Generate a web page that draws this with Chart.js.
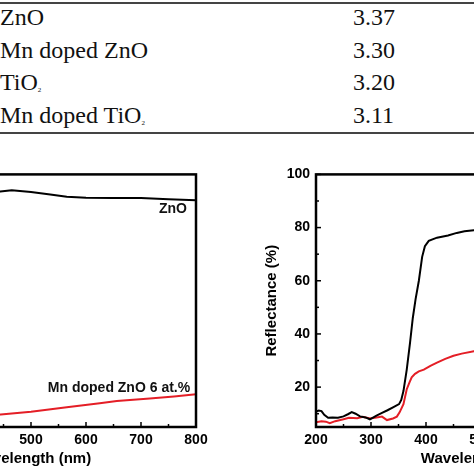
<!DOCTYPE html>
<html>
<head>
<meta charset="utf-8">
<script src="https://cdn.jsdelivr.net/npm/chart.js@4.4.0/dist/chart.umd.min.js"></script>
<style>
  html, body { margin: 0; padding: 0; background: #fff; }
  body { position: relative; width: 474px; height: 474px; overflow: hidden; }
  .rule { position: absolute; left: 0; width: 474px; height: 2px; background: #444; }
  .cell { position: absolute; font-family: "Liberation Serif", "Times New Roman", serif; font-size: 24px; line-height: 24px; color: #111; white-space: nowrap; }
  .cell sub { font-size: 7px; vertical-align: -2px; }
  canvas { position: absolute; top: 160px; }
  #left { left: -194px; }
  #right { left: 256px; }
</style>
</head>
<body>
<div class="rule" style="top:2px"></div>
<div class="cell" style="left:0;top:5px">ZnO</div>
<div class="cell" style="left:353px;top:5px">3.37</div>
<div class="cell" style="left:0;top:38px">Mn doped ZnO</div>
<div class="cell" style="left:353px;top:38px">3.30</div>
<div class="cell" style="left:0;top:70px">TiO<sub>2</sub></div>
<div class="cell" style="left:353px;top:70px">3.20</div>
<div class="cell" style="left:0;top:103px">Mn doped TiO<sub>2</sub></div>
<div class="cell" style="left:353px;top:103px">3.11</div>
<div class="rule" style="top:132px"></div>

<canvas id="left" width="414" height="314"></canvas>
<canvas id="right" width="414" height="314"></canvas>

<script>
// ---- data ----
// left panel: ZnO and Mn doped ZnO 6 at.% (only the visible part, 440-800 nm)
var leftWave = [440, 465, 500, 535, 565, 600, 650, 700, 750, 800];
var znoValues = [93.5, 94, 93.4, 92.4, 91.6, 91.2, 91.1, 91.1, 90.7, 90.3];
var mnZnoWave = [440, 500, 565, 625, 656, 716, 760, 800];
var mnZnoValues = [9.6, 10.7, 12.4, 13.9, 14.8, 15.7, 16.5, 17.3];

// right panel: reflectance, black and red curves
var blackWave = [200, 205, 210, 215, 222, 230, 240, 250, 258, 265, 272, 280, 290, 298, 310, 320, 330, 340, 351, 355, 359, 365, 371, 376, 381, 387, 393, 398, 405, 420, 440, 456, 470, 487, 500];
var blackValues = [10.8, 11.2, 11, 9.6, 8.5, 8.6, 8.5, 9, 9.8, 10.6, 10, 9, 8.6, 7.9, 9.3, 10.3, 11.3, 12.4, 13.6, 15.2, 18.5, 26.6, 36.7, 46, 53, 60, 69, 73, 75, 76.2, 77, 78, 78.6, 79, 79.3];
var redWave = [200, 210, 218, 225, 235, 250, 260, 275, 285, 298, 310, 320, 329, 340, 347, 352, 359, 365, 370, 374, 380, 387, 396, 408, 420, 435, 450, 465, 487, 500];
var redValues = [6.8, 7.2, 7, 6.4, 7.2, 7.9, 8.5, 8.3, 8.8, 8.2, 8.6, 8.9, 7.6, 8.2, 8.9, 10.5, 13.6, 19.2, 21.8, 23.7, 25, 25.9, 26.6, 28, 29.2, 30.6, 31.8, 32.6, 33.5, 34];

// ticks
var xMajor = [200, 300, 400, 500, 600, 700, 800];
var xMinor = [250, 350, 450, 550, 650, 750];
var yMajor = [20, 40, 60, 80, 100];
var yMinor = [10, 30, 50, 70, 90];

// curve labels on the left panel
var leftNotes = [
  { text: "ZnO", wave: 758, value: 87 },
  { text: "Mn doped ZnO 6 at.%", wave: 660, value: 19.6 }
];

var RED = "#e41e26";

Chart.defaults.font.family = "'Liberation Sans', Arial, sans-serif";
Chart.defaults.font.size = 14;
Chart.defaults.font.weight = "bold";
Chart.defaults.color = "#000";

function pairs(xs, ys) {
  return xs.map(function (x, i) { return { x: x, y: ys[i] }; });
}

// box around plot + inward tick marks
var frame = {
  id: "frame",
  afterDatasetsDraw: function (chart) {
    var ctx = chart.ctx, a = chart.chartArea;
    var sx = chart.scales.x, sy = chart.scales.y;
    ctx.save();
    ctx.strokeStyle = "#000";
    ctx.lineWidth = 1.5;
    sx.ticks.forEach(function (t) {
      var px = sx.getPixelForValue(t.value);
      var len = xMajor.indexOf(t.value) >= 0 ? 5 : 3;
      ctx.beginPath(); ctx.moveTo(px, a.bottom); ctx.lineTo(px, a.bottom - len); ctx.stroke();
    });
    sy.ticks.forEach(function (t) {
      var py = sy.getPixelForValue(t.value);
      var len = yMajor.indexOf(t.value) >= 0 ? 5 : 3;
      ctx.beginPath(); ctx.moveTo(a.left, py); ctx.lineTo(a.left + len, py); ctx.stroke();
    });
    ctx.lineWidth = 2.5;
    ctx.strokeRect(a.left, a.top, a.right - a.left, a.bottom - a.top);
    ctx.restore();
  }
};

var notes = {
  id: "notes",
  afterDraw: function (chart, args, opts) {
    if (!opts.items) return;
    var ctx = chart.ctx;
    ctx.save();
    ctx.font = "bold 14px 'Liberation Sans', Arial, sans-serif";
    ctx.fillStyle = "#111";
    ctx.textAlign = "center";
    ctx.textBaseline = "middle";
    opts.items.forEach(function (n) {
      ctx.fillText(n.text, chart.scales.x.getPixelForValue(n.wave), chart.scales.y.getPixelForValue(n.value));
    });
    ctx.restore();
  }
};

function makeOptions(yTitle, items) {
  return {
    responsive: false,
    animation: false,
    devicePixelRatio: 1,
    layout: { padding: { top: 12, right: 24, bottom: 0, left: 0 } },
    plugins: { legend: { display: false }, tooltip: { enabled: false }, notes: { items: items } },
    scales: {
      x: {
        type: "linear",
        min: 200,
        max: 800,
        afterBuildTicks: function (s) {
          s.ticks = xMajor.concat(xMinor).sort(function (a, b) { return a - b; })
            .map(function (v) { return { value: v }; });
        },
        afterFit: function (s) { s.height = 47; },
        grid: { display: false, drawTicks: false },
        border: { display: false },
        ticks: {
          padding: 5,
          maxRotation: 0,
          autoSkip: false,
          callback: function (v) { return xMajor.indexOf(v) >= 0 ? String(v) : ""; }
        },
        title: { display: true, text: "Wavelength (nm)", font: { size: 15 }, padding: { top: 2, bottom: 6 } }
      },
      y: {
        min: 5,
        max: 100,
        afterBuildTicks: function (s) {
          s.ticks = yMinor.concat(yMajor).sort(function (a, b) { return a - b; })
            .map(function (v) { return { value: v }; });
        },
        afterFit: function (s) { s.width = 60; },
        grid: { display: false, drawTicks: false },
        border: { display: false },
        ticks: {
          padding: 6,
          autoSkip: false,
          callback: function (v) { return yMajor.indexOf(v) >= 0 ? String(v) : ""; }
        },
        title: { display: !!yTitle, text: yTitle, font: { size: 15 }, padding: { top: 7, bottom: 2 } }
      }
    }
  };
}

new Chart(document.getElementById("left").getContext("2d"), {
  type: "line",
  data: {
    datasets: [
      { label: "ZnO", data: pairs(leftWave, znoValues), borderColor: "#000", borderWidth: 2, pointRadius: 0 },
      { label: "Mn doped ZnO 6 at.%", data: pairs(mnZnoWave, mnZnoValues), borderColor: RED, borderWidth: 2, pointRadius: 0 }
    ]
  },
  options: makeOptions("", leftNotes),
  plugins: [frame, notes]
});

new Chart(document.getElementById("right").getContext("2d"), {
  type: "line",
  data: {
    datasets: [
      { label: "TiO2", data: pairs(blackWave, blackValues), borderColor: "#000", borderWidth: 2, pointRadius: 0 },
      { label: "Mn doped TiO2", data: pairs(redWave, redValues), borderColor: RED, borderWidth: 2, pointRadius: 0 }
    ]
  },
  options: makeOptions("Reflectance (%)", null),
  plugins: [frame, notes]
});
</script>
</body>
</html>
